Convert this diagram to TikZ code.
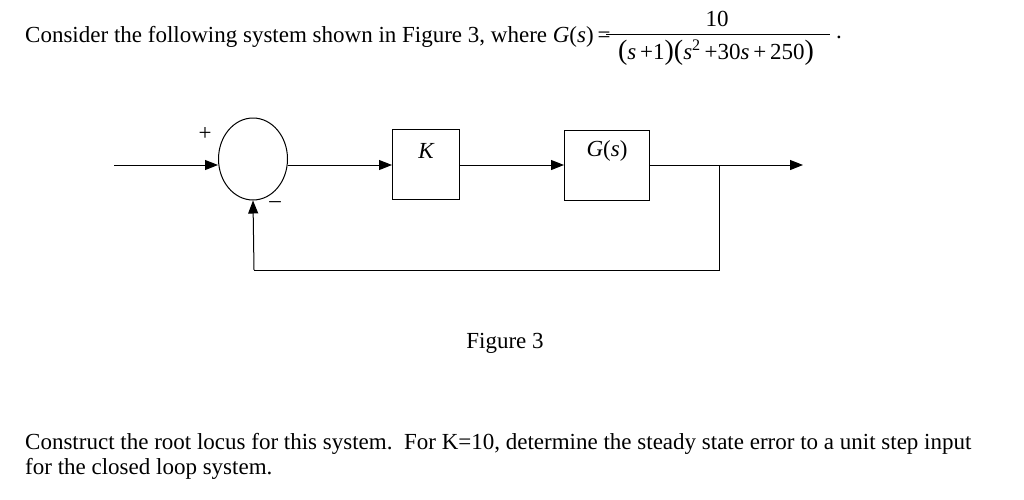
\documentclass[tikz,border=0pt]{standalone}
\usepackage{fontspec}
\setmainfont{Liberation Serif}
\usetikzlibrary{arrows.meta,shapes.geometric}
\begin{document}
\begin{tikzpicture}[x=1pt,y=-1pt,
  blk/.style={draw,line width=1pt,minimum width=67pt,minimum height=70pt,inner sep=0pt},
  sig/.style={line width=1pt,-{Triangle[length=13pt,width=10pt]}},
  wire/.style={line width=1pt},
  big/.style={font=\fontsize{23}{26}\selectfont},
  txt/.style={big,inner sep=0pt,anchor=base west}]
\useasboundingbox (0,0) rectangle (1024,499);
\node[txt] (t1) at (25,42) {Consider the following system shown in Figure 3, where \textit{G}(\textit{s})\,=};
\node[big,inner sep=0pt] (num) at (717,19) {10};
\node[big,inner sep=0pt] (den) at (716,53) {{\fontsize{28}{30}\selectfont(}\textit{s}\,+1{\fontsize{28}{30}\selectfont)(}\textit{s}\textsuperscript{2}\,+30\textit{s}\,+\,250{\fontsize{28}{30}\selectfont)}};
\draw[line width=0.8pt] (606,34) -- (830,34);
\node[big,inner sep=0pt] (dot) at (839,37) {.};
\node[draw,line width=1pt,ellipse,minimum width=69pt,minimum height=82pt,inner sep=0pt] (sum) at (253,159) {};
\node[big] (plus) at (205,134) {+};
\node[big] (minus) at (275,205) {--};
\coordinate (in) at (114,165);
\node[blk] (k) at (426,164) {};
\node[big,font=\fontsize{23}{26}\selectfont\itshape] (kl) at (426,151) {K};
\node[blk,minimum width=85pt] (g) at (607,165) {};
\node[big] (gl) at (607,151) {\textit{G}(\textit{s})};
\coordinate (out) at (803,165);
\coordinate (br) at (719,165);
\coordinate (fb1) at (719,270);
\coordinate (fb2) at (254,270);
\draw[sig] (in) -- (in -| sum.west);
\draw[sig] (sum.east |- in) -- (k.west |- in);
\draw[sig] (k.east |- in) -- (g.west |- in);
\draw[sig] (g.east |- in) -- (out);
\draw[wire] (br) -- (fb1) -- (fb2);
\draw[sig] (fb2) -- (sum.south);
\node[big] (fig) at (505,343) {Figure 3};
\node[txt] (b1) at (25,449) {Construct the root locus for this system.\ \ For K=10, determine the steady state error to a unit step input};
\node[txt] (b2) at (25,474) {for the closed loop system.};
\end{tikzpicture}
\end{document}
